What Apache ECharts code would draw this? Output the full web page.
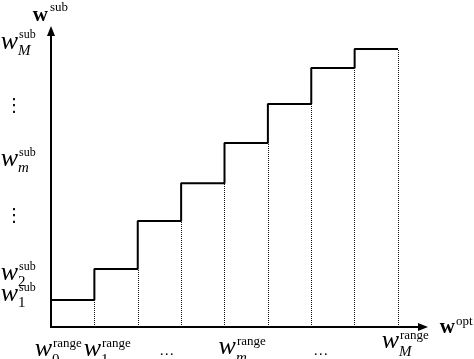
<!DOCTYPE html>
<html><head><meta charset="utf-8">
<script src="https://cdn.jsdelivr.net/npm/echarts@6/dist/echarts.min.js"></script>
<style>html,body{margin:0;padding:0;background:#fff}#c{width:474px;height:359px}</style>
</head><body><div id="c"></div>
<script>
// ---- data ----
const stepEdges = [0, 1, 2, 3, 4, 5, 6, 7, 8];
const stepHeights = [0.91, 1.96, 3.58, 4.86, 6.22, 7.53, 8.75, 9.39];
const xLabelSubs = ['0', '1', 'm', 'M'];
const xLabelAt = [0, 1.13, 4.24, 8.0];
const xEllipsisAt = [2.67, 6.22];
const yLabelSubs = ['1', '2', 'm', 'M'];
const yLabelAt = [0.91, 1.62, 5.47, 9.43];
const yEllipsisAt = [3.75, 7.47];
const xSup = 'range', ySup = 'sub';
const xTitle = ['w', 'opt'], yTitle = ['w', 'sub'];

// ---- layout / style ----
const xLabelBaseline = [355, 355, 353, 347];
const SERIF = '"Liberation Serif", "Times New Roman", serif';
const W_SIZE = 26;
const mid = (b, s) => b - 0.305 * s + 2; // baseline -> middle y

const chart = echarts.init(document.getElementById('c'), null, {renderer: 'canvas'});
const axisCommon = {
  type: 'value',
  axisLine: {show: true, symbol: ['none', 'triangle'], symbolSize: [8, 10], lineStyle: {color: '#000', width: 2}},
  axisTick: {show: false}, axisLabel: {show: false}, splitLine: {show: false}
};
chart.setOption({
  animation: false,
  backgroundColor: '#fff',
  grid: {left: 51, right: 51, top: 31, bottom: 32},
  xAxis: Object.assign({}, axisCommon, {min: 0, max: 8.576}),
  yAxis: Object.assign({}, axisCommon, {min: 0, max: 10}),
  series: [{
    type: 'line', step: 'end', symbol: 'none',
    data: stepEdges.map((x, i) => [x, stepHeights[Math.min(i, stepHeights.length - 1)]]),
    lineStyle: {color: '#000', width: 2},
    markLine: {
      silent: true, symbol: ['none', 'none'], label: {show: false},
      lineStyle: {type: 'dotted', color: '#111', width: 1},
      emphasis: {disabled: true},
      data: stepEdges.slice(1).map((x, i) => [{coord: [x, 0]}, {coord: [x, stepHeights[i]]}])
    }
  }]
});

const px = v => chart.convertToPixel({xAxisIndex: 0}, v);
const py = v => chart.convertToPixel({yAxisIndex: 0}, v);
const g = [];
function txt(text, x, y, font, align) {
  g.push({type: 'text', silent: true, style: {text, x, y, font, fill: '#000', align: align, verticalAlign: 'middle'}});
}
function subFont(s) { return (/[0-9]/.test(s) ? '' : 'italic ') + '15px ' + SERIF; }
// x tick labels
xLabelSubs.forEach((s, i) => {
  const x = px(xLabelAt[i]), b = xLabelBaseline[i];
  txt('w', x + 1, mid(b, W_SIZE), 'italic ' + W_SIZE + 'px ' + SERIF, 'right');
  txt(xSup, x + 2, mid(b - 9, 13), '13px ' + SERIF, 'left');
  txt(s, x + 1, mid(b + 8, 15), subFont(s), 'left');
});
xEllipsisAt.forEach(v => txt('…', px(v), 351, '15px ' + SERIF, 'center'));
// y tick labels
yLabelSubs.forEach((s, i) => {
  const b = py(yLabelAt[i]), x = 18;
  txt('w', x, mid(b, W_SIZE), 'italic ' + W_SIZE + 'px ' + SERIF, 'right');
  txt(ySup, x + 1, mid(b - 11, 12), '12px ' + SERIF, 'left');
  txt(s, x, mid(b + 6, 15), subFont(s), 'left');
});
yEllipsisAt.forEach(v => txt('⋮', 14, py(v), '18px "DejaVu Sans"', 'center'));
// axis titles
txt(xTitle[0], 455, mid(332, 21), 'bold 21px ' + SERIF, 'right');
txt(xTitle[1], 456, mid(324, 13), '13px ' + SERIF, 'left');
txt(yTitle[0], 48, mid(20, 21), 'bold 21px ' + SERIF, 'right');
txt(yTitle[1], 50, mid(10, 13), '13px ' + SERIF, 'left');
chart.setOption({graphic: g});
</script>
</body></html>
